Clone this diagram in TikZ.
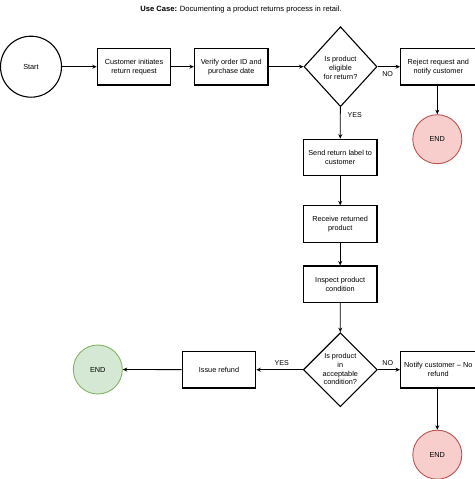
\documentclass[tikz,border=0pt]{standalone}
\usepackage{fontspec}
\setmainfont{Liberation Sans}
\usetikzlibrary{shapes.geometric,arrows.meta}
\definecolor{redfill}{HTML}{F8CECC}
\definecolor{redline}{HTML}{B85450}
\definecolor{greenfill}{HTML}{D5E8D4}
\definecolor{greenline}{HTML}{82B366}
\tikzset{
  box/.style={draw=black, line width=1.1pt, rectangle, minimum width=73.5pt, minimum height=36.6pt, inner sep=1pt, align=center, font=\fontsize{7.3}{9}\selectfont},
  boxwide/.style={box, minimum width=75.5pt},
  startc/.style={draw=black, line width=1.1pt, circle, minimum size=61pt, inner sep=0pt, font=\fontsize{7.3}{9}\selectfont},
  endred/.style={draw=redline, fill=redfill, line width=0.9pt, circle, minimum size=49pt, inner sep=0pt, font=\fontsize{7.3}{9}\selectfont},
  endgreen/.style={draw=greenline, fill=greenfill, line width=0.9pt, circle, minimum size=49pt, inner sep=0pt, font=\fontsize{7.3}{9}\selectfont},
  decision/.style={draw=black, line width=1.1pt, diamond, inner sep=0pt},
  dtext/.style={align=center, font=\fontsize{7.3}{8.7}\selectfont},
  conn/.style={draw=black, line width=0.8pt, -{Stealth[length=4.5pt,width=4pt]}},
  lbl/.style={font=\fontsize{7.1}{8}\selectfont, inner sep=0pt},
}
\begin{document}
\begin{tikzpicture}[x=1pt,y=-1pt]
\useasboundingbox (0,0) rectangle (474,479);
\node[font=\fontsize{7.6}{9}\selectfont] (title) at (241,9.5) {\textbf{Use Case:} Documenting a product returns process in retail.};
\node[startc] (start) at (31,66.7) {Start};
\node[box] (c1) at (134,66.7) {Customer initiates\\return request};
\node[box] (c2) at (231.2,66.7) {Verify order ID and\\purchase date};
\node[decision, minimum width=73pt, minimum height=80pt] (d1) at (340.5,66.7) {};
\node[dtext] (d1t) at (340.5,68) {Is product\\eligible\\for return?};
\node[boxwide] (c3) at (438.3,66.7) {Reject request and\\notify customer};
\node[endred] (end1) at (437.3,139.2) {END};
\node[box] (c4) at (340.2,157.5) {Send return label to\\customer};
\node[box] (c5) at (340.2,224.2) {Receive returned\\product};
\node[box] (c6) at (340.2,284.3) {Inspect product\\condition};
\node[decision, minimum width=74pt, minimum height=74pt] (d2) at (340.3,369.7) {};
\node[dtext] (d2t) at (340.3,369.2) {Is product\\in\\acceptable\\condition?};
\node[box] (c7) at (219,369.7) {Issue refund};
\node[endgreen] (end2) at (97.8,369.5) {END};
\node[boxwide] (c8) at (438.3,369.7) {Notify customer -- No\\refund};
\node[endred] (end3) at (437.3,454.7) {END};

\draw[conn] (start) -- (c1);
\draw[conn] (c1) -- (c2);
\draw[conn] (c2) -- (d1);
\draw[conn] (d1) -- node[lbl, pos=0.45, below=4pt] (no1) {NO} (c3);
\draw[conn] (d1) -- node[lbl, pos=0.25, right=7pt] (yes1) {YES} (c4);
\draw[conn] (c3.south -| end1) -- (end1);
\draw[conn] (c4) -- (c5);
\draw[conn] (c5) -- (c6);
\draw[conn] (c6) -- (d2);
\draw[conn] (d2) -- node[lbl, pos=0.45, above=4pt] (yes2) {YES} (c7);
\draw[conn] (c7) -- (end2);
\draw[conn] (d2) -- node[lbl, pos=0.45, above=4pt] (no2) {NO} (c8);
\draw[conn] (c8.south -| end3) -- (end3);
\end{tikzpicture}
\end{document}
